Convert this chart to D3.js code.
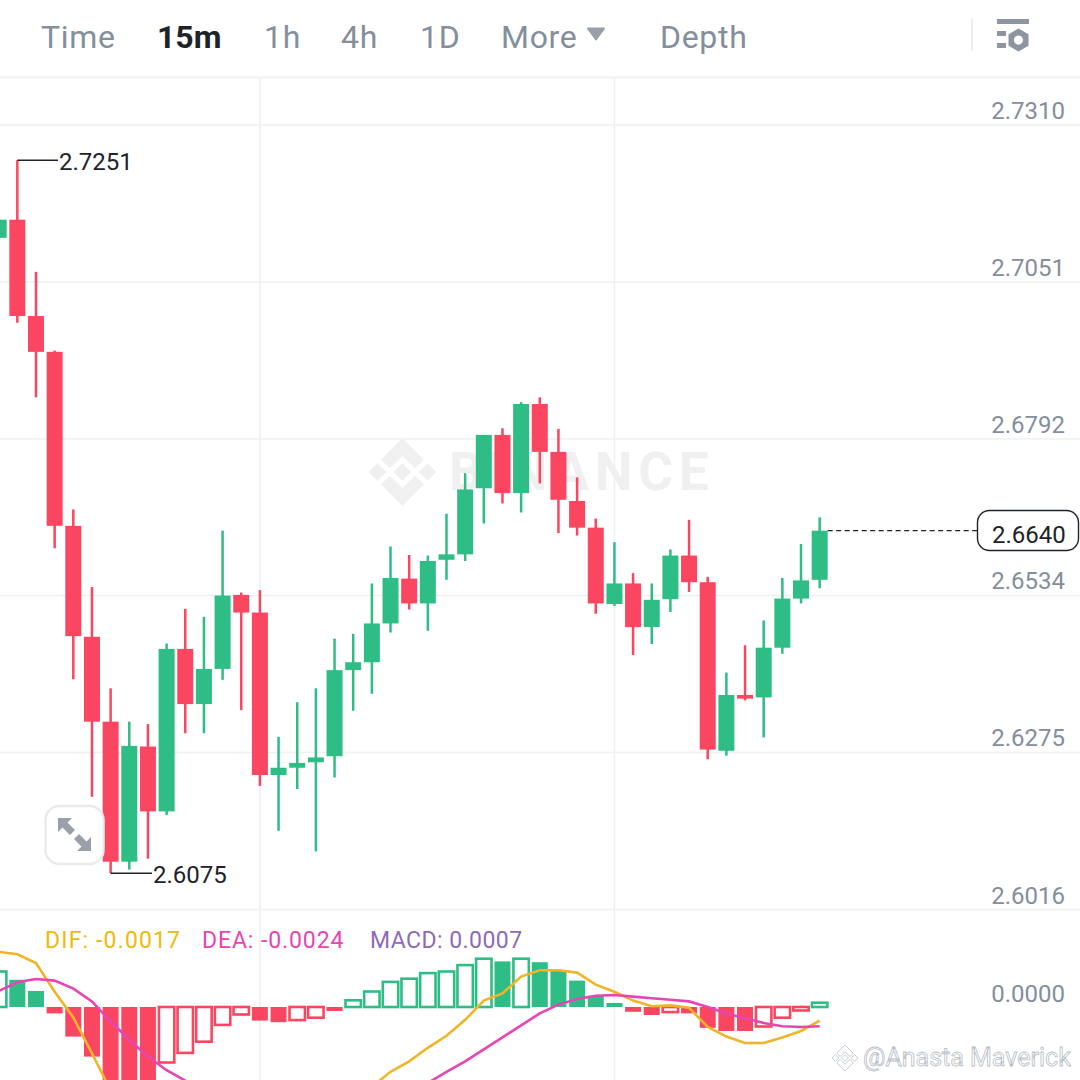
<!DOCTYPE html>
<meta charset="utf-8">
<style>
  html, body { margin: 0; padding: 0; background: #fff; }
  svg { display: block; }
  text { font-family: Roboto, sans-serif; }
  .grid line { stroke: #eef0f2; stroke-width: 1.6; }
  .grid path { display: none; }
  .axis path { display: none; }
  .axis text { font-size: 24px; fill: #848e9c; font-family: Roboto, sans-serif; }
</style>
<svg width="1080" height="1080"></svg>
<script src="https://d3js.org/d3.v7.min.js"></script>
<script>
  var opens = [2.7123, 2.7153, 2.6994, 2.6935, 2.6648, 2.6465, 2.6325, 2.6094, 2.6284, 2.6177, 2.6445, 2.6354, 2.6412, 2.6534, 2.6505,
    2.6237, 2.6249, 2.6258, 2.6268, 2.6410, 2.6423, 2.6487, 2.6561, 2.6520, 2.6592, 2.6601, 2.6710, 2.6798, 2.6702, 2.6849,
    2.6770, 2.6689, 2.6645, 2.6519, 2.6553, 2.6481, 2.6527, 2.6599, 2.6555, 2.6277, 2.6369, 2.6365, 2.6447, 2.6528, 2.6559];
  var highs = [2.7153, 2.7251, 2.7067, 2.6937, 2.6675, 2.6547, 2.6380, 2.6325, 2.6321, 2.6454, 2.6511, 2.6498, 2.6640, 2.6538, 2.6542,
    2.6300, 2.6357, 2.6380, 2.6462, 2.6470, 2.6553, 2.6614, 2.6600, 2.6599, 2.6668, 2.6735, 2.6798, 2.6809, 2.6852, 2.6860,
    2.6808, 2.6728, 2.6660, 2.6621, 2.6570, 2.6553, 2.6609, 2.6658, 2.6564, 2.6406, 2.6451, 2.6492, 2.6562, 2.6618, 2.6662];
  var lows = [2.7123, 2.6983, 2.6860, 2.6611, 2.6395, 2.6201, 2.6075, 2.6081, 2.6099, 2.6171, 2.6306, 2.6306, 2.6394, 2.6344, 2.6219,
    2.6145, 2.6214, 2.6111, 2.6233, 2.6343, 2.6371, 2.6472, 2.6510, 2.6475, 2.6559, 2.6590, 2.6652, 2.6685, 2.6670, 2.6718,
    2.6636, 2.6632, 2.6503, 2.6516, 2.6435, 2.6453, 2.6506, 2.6539, 2.6263, 2.6269, 2.6360, 2.6299, 2.6437, 2.6520, 2.6545];
  var closes = [2.7153, 2.6994, 2.6935, 2.6648, 2.6466, 2.6325, 2.6094, 2.6285, 2.6177, 2.6445, 2.6354, 2.6412, 2.6533, 2.6505, 2.6237,
    2.6249, 2.6257, 2.6266, 2.6410, 2.6423, 2.6487, 2.6562, 2.6520, 2.6590, 2.6601, 2.6708, 2.6798, 2.6702, 2.6849, 2.6770,
    2.6691, 2.6645, 2.6520, 2.6553, 2.6481, 2.6526, 2.6599, 2.6555, 2.6279, 2.6369, 2.6363, 2.6447, 2.6528, 2.6558, 2.6640];

  // histogram, the ones past the bottom of the picture are estimates
  var macd = [0.0046, 0.0034, 0.0020, -0.0008, -0.0037, -0.0062, -0.0098, -0.0105, -0.0102, -0.0071, -0.0059, -0.0045, -0.0024, -0.0011, -0.0017,
    -0.0019, -0.0018, -0.0015, -0.0005, 0.0010, 0.0021, 0.0033, 0.0037, 0.0044, 0.0046, 0.0054, 0.0062, 0.0057, 0.0062, 0.0056,
    0.0046, 0.0033, 0.0014, 0.0005, -0.0006, -0.0010, -0.0008, -0.0008, -0.0026, -0.0030, -0.0030, -0.0026, -0.0015, -0.0006, 0.0007];
  var hollow = [1, 0, 0, 0, 0, 0, 0, 0, 0, 1, 1, 1, 1, 1, 0,
    0, 1, 1, 0, 1, 1, 1, 1, 1, 1, 1, 1, 0, 1, 0,
    0, 0, 0, 0, 0, 0, 1, 0, 0, 0, 0, 1, 1, 1, 1];
  var dif = [0.0069, 0.0066, 0.0055, 0.0019, -0.0013, -0.0058, -0.0104, -0.0128, -0.0145, -0.0147, -0.0152, -0.0154, -0.0153, -0.0150, -0.0152,
    -0.0150, -0.0146, -0.0141, -0.0130, -0.0115, -0.0100, -0.0081, -0.0068, -0.0051, -0.0036, -0.0016, 0.0008, 0.0017, 0.0038, 0.0046,
    0.0046, 0.0043, 0.0028, 0.0019, 0.0008, 0.0001, 0.0002, -0.0001, -0.0025, -0.0037, -0.0045, -0.0045, -0.0038, -0.0030, -0.0017];
  var dea = [0.0020, 0.0031, 0.0035, 0.0033, 0.0023, 0.0007, -0.0018, -0.0041, -0.0062, -0.0079, -0.0092, -0.0104, -0.0112, -0.0118, -0.0123,
    -0.0127, -0.0129, -0.0128, -0.0125, -0.0122, -0.0120, -0.0113, -0.0105, -0.0095, -0.0081, -0.0068, -0.0053, -0.0038, -0.0023, -0.0008,
    0.0003, 0.0010, 0.0014, 0.0015, 0.0013, 0.0011, 0.0009, 0.0007, 0.0000, -0.0008, -0.0014, -0.0020, -0.0024, -0.0025, -0.0024];

  var priceTicks = [2.7310, 2.7051, 2.6792, 2.6534, 2.6275, 2.6016];
  var macdTicks = [0];
  var timeTicks = [14, 33];
  var tabs = ["Time", "15m", "1h", "4h", "1D", "More", "Depth"];
  var lastPrice = 2.6640, maxPrice = 2.7251, minPrice = 2.6075;
  var legend = ["DIF: -0.0017", "DEA: -0.0024", "MACD: 0.0007"];

  var green = "#2ebd85", red = "#fb4661", dark = "#1e2329", grey = "#848e9c", marks = "#f0f0f0";
  var tabX = [41, 157, 264, 341, 420, 501, 660], legendX = [45, 202, 370], legendSpacing = [1.15, 0.9, 0.45];
  var legendColor = ["#f0b90b", "#e645b4", "#8e6bb8"];

  var svg = d3.select("svg");
  var indexes = d3.range(opens.length);

  var x = d3.scaleLinear().domain([0, 44]).range([-1.33, 819.67]),
    y = d3.scaleLinear().domain([2.7310, 2.6016]).range([124.5, 909]),
    my = d3.scaleLinear().domain([0, -0.01]).range([1007, 1087]);

  // grid
  svg.append("g").attr("class", "grid")
    .attr("transform", "translate(1080,0)")
    .call(d3.axisLeft(y).tickValues(priceTicks).tickSize(1080).tickFormat(""));
  svg.append("g").attr("class", "grid")
    .attr("transform", "translate(-0.5,78)")
    .call(d3.axisBottom(x).tickValues(timeTicks).tickSize(1002).tickFormat(""));

  // header
  svg.append("rect").attr("x", 0).attr("y", 76).attr("width", 1080).attr("height", 3).attr("fill", "#f4f5f6");
  svg.selectAll(".tab").data(tabs).enter().append("text")
    .attr("class", "tab")
    .attr("x", function(d, i) { return tabX[i]; })
    .attr("y", 48)
    .attr("font-size", 32)
    .attr("font-weight", function(d) { return d === "15m" ? 700 : 400; })
    .attr("fill", function(d) { return d === "15m" ? dark : grey; })
    .attr("letter-spacing", function(d) { return d === "15m" ? 0 : 0.7; })
    .text(function(d) { return d; });
  svg.append("path").attr("d", "M588 28.5H604L596 39.5Z").attr("fill", "#9aa0aa")
    .attr("stroke", "#9aa0aa").attr("stroke-width", 2).attr("stroke-linejoin", "round");
  svg.append("rect").attr("x", 971).attr("y", 18).attr("width", 2).attr("height", 33).attr("fill", "#eceef0");
  var icon = svg.append("g").attr("fill", "#8d95a1");
  icon.append("rect").attr("x", 997).attr("y", 19).attr("width", 32).attr("height", 5);
  icon.append("rect").attr("x", 997).attr("y", 31).attr("width", 9).attr("height", 5);
  icon.append("rect").attr("x", 997).attr("y", 43).attr("width", 9).attr("height", 5);
  icon.append("path").attr("fill-rule", "evenodd")
    .attr("d", "M1018.5 28.5L1028.5 34.3V45.7L1018.5 51.5L1008.5 45.7V34.3ZM1018.5 35.5a4.5 4.5 0 1 0 .01 0Z");

  // watermark
  function logo(g, cx, cy, r) {
    var shapes = [
      [[0, -0.26], [0.26, 0], [0, 0.26], [-0.26, 0]],
      [[-0.74, -0.26], [-0.48, 0], [-0.74, 0.26], [-1, 0]],
      [[0.74, -0.26], [1, 0], [0.74, 0.26], [0.48, 0]],
      [[0, -1], [0.63, -0.37], [0.37, -0.11], [0, -0.48], [-0.37, -0.11], [-0.63, -0.37]],
      [[0, 1], [0.63, 0.37], [0.37, 0.11], [0, 0.48], [-0.37, 0.11], [-0.63, 0.37]]
    ];
    g.selectAll("path").data(shapes).enter().append("path")
      .attr("d", function(s) {
        return d3.line()(s.map(function(p) { return [cx + p[0] * r, cy + p[1] * r]; })) + "Z";
      });
  }
  logo(svg.append("g").attr("fill", marks), 402.5, 472, 34);
  svg.append("text").attr("x", 449).attr("y", 490).attr("font-size", 53).attr("font-weight", 700)
    .attr("letter-spacing", 5.8).attr("fill", marks).text("BINANCE");

  // candles
  var candle = svg.selectAll(".candle").data(indexes).enter().append("g")
    .attr("class", "candle")
    .attr("fill", function(i) { return closes[i] >= opens[i] ? green : red; });
  candle.append("rect")
    .attr("x", function(i) { return x(i) - 1.25; })
    .attr("y", function(i) { return y(highs[i]); })
    .attr("width", 2.5)
    .attr("height", function(i) { return y(lows[i]) - y(highs[i]); });
  candle.append("rect")
    .attr("x", function(i) { return x(i) - 8; })
    .attr("y", function(i) { return y(Math.max(opens[i], closes[i])); })
    .attr("width", 16)
    .attr("height", function(i) { return Math.max(2, Math.abs(y(opens[i]) - y(closes[i]))); });

  // high, low and last price
  svg.append("path").attr("d", "M" + x(1) + " " + y(maxPrice) + "H58").attr("stroke", dark).attr("stroke-width", 1.5).attr("fill", "none");
  svg.append("text").attr("x", 59).attr("y", 170).attr("font-size", 24).attr("fill", dark).text(maxPrice.toFixed(4));
  svg.append("path").attr("d", "M" + x(6) + " " + y(minPrice) + "H152").attr("stroke", dark).attr("stroke-width", 1.5).attr("fill", "none");
  svg.append("text").attr("x", 153).attr("y", 883).attr("font-size", 24).attr("fill", dark).text(minPrice.toFixed(4));
  svg.append("line").attr("x1", x(44) + 8).attr("x2", 977).attr("y1", y(lastPrice)).attr("y2", y(lastPrice))
    .attr("stroke", dark).attr("stroke-width", 1.3).attr("stroke-dasharray", "5,3.5");

  // price axis
  svg.append("g").attr("class", "axis")
    .attr("transform", "translate(1065,0)")
    .call(d3.axisLeft(y).tickValues(priceTicks).tickSize(0).tickPadding(0).tickFormat(d3.format(".4f")))
    .selectAll("text").attr("dy", "-6px");
  svg.append("g").attr("class", "axis")
    .attr("transform", "translate(1065,0)")
    .call(d3.axisLeft(my).tickValues(macdTicks).tickSize(0).tickPadding(0).tickFormat(d3.format(".4f")))
    .selectAll("text").attr("dy", "-6px");

  svg.append("rect").attr("x", 977.5).attr("y", 510.5).attr("width", 101).attr("height", 40).attr("rx", 12)
    .attr("fill", "#fff").attr("stroke", dark).attr("stroke-width", 1.4);
  svg.append("text").attr("x", 992).attr("y", 543).attr("font-size", 24).attr("fill", dark).text(lastPrice.toFixed(4));

  // expand button
  svg.append("rect").attr("x", 45.5).attr("y", 806).attr("width", 58).attr("height", 58).attr("rx", 14)
    .attr("fill", "#fff").attr("stroke", "#e9ebef").attr("stroke-width", 2.5);
  svg.append("path").attr("fill", "#9aa0aa")
    .attr("d", "M58 818H72L67.5 822.5L75 830L70 835L62.5 827.5L58 832ZM91 851H77L81.5 846.5L74 839L79 834L86.5 841.5L91 837Z");

  // MACD
  svg.append("g").selectAll("text").data(legend).enter().append("text")
    .attr("x", function(d, i) { return legendX[i]; })
    .attr("y", 948)
    .attr("font-size", 23)
    .attr("letter-spacing", function(d, i) { return legendSpacing[i]; })
    .attr("fill", function(d, i) { return legendColor[i]; })
    .text(function(d) { return d; });

  // hollow bars keep their outline past the zero line, only the far end is inset
  svg.append("g").selectAll("rect").data(indexes).enter().append("rect")
    .attr("x", function(i) { return x(i) - (hollow[i] ? 7.7 : 8); })
    .attr("y", function(i) { return Math.min(my(macd[i]), my(0)) + (hollow[i] && macd[i] > 0 ? 1.3 : 0); })
    .attr("width", function(i) { return hollow[i] ? 15.4 : 16; })
    .attr("height", function(i) { return Math.max(0, Math.abs(my(macd[i]) - my(0)) - (hollow[i] ? 1.3 : 0)); })
    .attr("fill", function(i) { return hollow[i] ? "#fff" : (macd[i] >= 0 ? green : red); })
    .attr("stroke", function(i) { return hollow[i] ? (macd[i] >= 0 ? green : red) : "none"; })
    .attr("stroke-width", 2.6);

  var line = d3.line().x(function(d, i) { return x(i); }).y(function(d) { return my(d); });
  svg.append("path").attr("d", line(dif)).attr("fill", "none").attr("stroke", "#f0b429").attr("stroke-width", 2.6);
  svg.append("path").attr("d", line(dea)).attr("fill", "none").attr("stroke", "#e645b4").attr("stroke-width", 2.6);

  // signature
  var sign = svg.append("g").attr("fill", "#fff").attr("stroke", "#b9bec6").attr("stroke-width", 0.8);
  logo(sign, 845, 1058, 13);
  sign.append("text").attr("x", 863).attr("y", 1066).attr("font-size", 25).text("@Anasta Maverick");
</script>
